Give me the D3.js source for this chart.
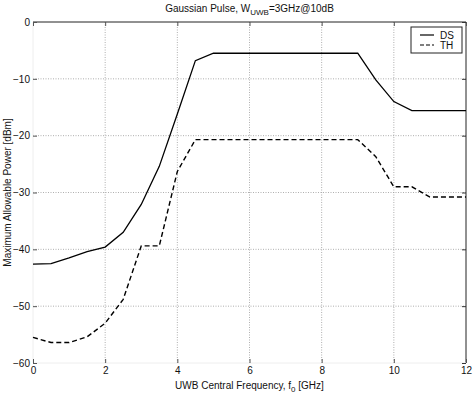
<!DOCTYPE html>
<html><head><meta charset="utf-8">
<script src="https://cdn.jsdelivr.net/npm/d3@7"></script>
<style>body{margin:0;background:#fff}svg{display:block}text{font-family:"Liberation Sans",Arial,sans-serif;fill:#111}</style>
</head><body>
<svg id="c" width="474" height="395"></svg>
<script>
const freq = [0, 0.5, 1, 1.5, 2, 2.5, 3, 3.5, 4, 4.5, 5, 5.5, 6, 6.5, 7, 7.5, 8, 8.5, 9, 9.5, 10, 10.5, 11, 11.5, 12];
const dsValues = [-42.6, -42.5, -41.5, -40.4, -39.6, -37, -32.1, -25.4, -16.2, -6.8, -5.5, -5.5, -5.5, -5.5, -5.5, -5.5, -5.5, -5.5, -5.5, -10.2, -14, -15.6, -15.6, -15.6, -15.6];
const thValues = [-55.5, -56.4, -56.4, -55.4, -53, -48.8, -39.4, -39.4, -26.3, -20.7, -20.7, -20.7, -20.7, -20.7, -20.7, -20.7, -20.7, -20.7, -20.7, -23.7, -29, -29, -30.8, -30.8, -30.8];
const xTicks = [0, 2, 4, 6, 8, 10, 12];
const yTicks = [0, -10, -20, -30, -40, -50, -60];
const seriesNames = ["DS", "TH"];

const svg = d3.select("#c");
const x = d3.scaleLinear().domain([0, 12]).range([33, 466]);
const y = d3.scaleLinear().domain([-60, 0]).range([363, 22]);

// grid
const grid = svg.append("g").attr("stroke", "#9a9a9a").attr("stroke-width", 0.8).attr("stroke-dasharray", "1,1.5");
grid.selectAll("line.gx").data(xTicks.slice(1, -1)).join("line")
  .attr("x1", d => x(d)).attr("x2", d => x(d)).attr("y1", y(0)).attr("y2", y(-60));
grid.selectAll("line.gy").data(yTicks.slice(1, -1)).join("line")
  .attr("x1", x(0)).attr("x2", x(12)).attr("y1", d => y(d)).attr("y2", d => y(d));

// frame
svg.append("line").attr("x1", x(0)).attr("x2", x(12)).attr("y1", y(0)).attr("y2", y(0)).attr("stroke", "#222").attr("stroke-width", 1);
svg.append("line").attr("x1", x(12)).attr("x2", x(12)).attr("y1", y(0)).attr("y2", y(-60)).attr("stroke", "#222").attr("stroke-width", 1);
svg.append("line").attr("x1", x(0)).attr("x2", x(0)).attr("y1", y(0)).attr("y2", y(-60)).attr("stroke", "#eee").attr("stroke-width", 1);
svg.append("line").attr("x1", x(0)).attr("x2", x(12)).attr("y1", y(-60)).attr("y2", y(-60)).attr("stroke", "#eee").attr("stroke-width", 1);

// axes
const xAxis = d3.axisBottom(x).tickValues(xTicks).tickFormat(d3.format("d")).tickSizeInner(-4).tickSizeOuter(0).tickPadding(4);
const gx = svg.append("g").attr("transform", `translate(0,${y(-60)})`).call(xAxis);
gx.select(".domain").remove();
gx.selectAll(".tick line").attr("stroke", "#555");
gx.selectAll("text").attr("font-size", 10).attr("fill", "#111").attr("font-family", "Liberation Sans, Arial, sans-serif");

const gxTop = svg.append("g").attr("transform", `translate(0,${y(0)})`).call(d3.axisTop(x).tickValues(xTicks).tickSizeInner(-4).tickSizeOuter(0).tickFormat(""));
gxTop.select(".domain").remove();
gxTop.selectAll(".tick line").attr("stroke", "#555");

const yAxis = d3.axisLeft(y).tickValues(yTicks).tickFormat(d3.format("d")).tickSizeInner(-4).tickSizeOuter(0).tickPadding(3);
const gy = svg.append("g").attr("transform", `translate(${x(0)},0)`).call(yAxis);
gy.select(".domain").remove();
gy.selectAll(".tick line").attr("stroke", "#555");
gy.selectAll("text").attr("font-size", 10).attr("fill", "#111").attr("font-family", "Liberation Sans, Arial, sans-serif")
  .attr("dy", "0.32em");
const gyR = svg.append("g").attr("transform", `translate(${x(12)},0)`).call(d3.axisRight(y).tickValues(yTicks).tickSizeInner(-4).tickSizeOuter(0).tickFormat(""));
gyR.select(".domain").remove();
gyR.selectAll(".tick line").attr("stroke", "#333");

// lines
const line = d3.line().x((d, i) => x(freq[i])).y(d => y(d));
svg.append("path").datum(dsValues).attr("d", line).attr("fill", "none").attr("stroke", "#000").attr("stroke-width", 1.3);
svg.append("path").datum(thValues).attr("d", line).attr("fill", "none").attr("stroke", "#000").attr("stroke-width", 1.4).attr("stroke-dasharray", "5,3");

// legend
const lg = svg.append("g");
lg.append("rect").attr("x", 411).attr("y", 27).attr("width", 51).attr("height", 26).attr("fill", "#fff").attr("stroke", "#222").attr("stroke-width", 1);
seriesNames.forEach((n, i) => {
  const yy = 35 + i * 10;
  lg.append("line").attr("x1", 420).attr("x2", 434).attr("y1", yy).attr("y2", yy).attr("stroke", "#000").attr("stroke-width", 1.2)
    .attr("stroke-dasharray", i === 1 ? "4,2" : null);
  lg.append("text").attr("x", 440).attr("y", yy).attr("dy", "0.35em").attr("font-size", 10).text(n);
});

// title
const t = svg.append("text").attr("x", (x(0) + x(12)) / 2).attr("y", 12).attr("text-anchor", "middle").attr("font-size", 10);
t.append("tspan").text("Gaussian Pulse, W");
t.append("tspan").attr("font-size", 8).attr("dy", 3).text("UWB");
t.append("tspan").attr("dy", -3).text("=3GHz@10dB");

// x label
const xl = svg.append("text").attr("x", (x(0) + x(12)) / 2).attr("y", 389).attr("text-anchor", "middle").attr("font-size", 10);
xl.append("tspan").text("UWB Central Frequency, f");
xl.append("tspan").attr("font-size", 8).attr("dy", 2.5).text("0");
xl.append("tspan").attr("dy", -2.5).text(" [GHz]");

// y label
svg.append("text").attr("transform", `translate(11,${(y(0) + y(-60)) / 2}) rotate(-90)`).attr("text-anchor", "middle").attr("font-size", 10)
  .text("Maximum Allowable Power [dBm]");
</script>
</body></html>
